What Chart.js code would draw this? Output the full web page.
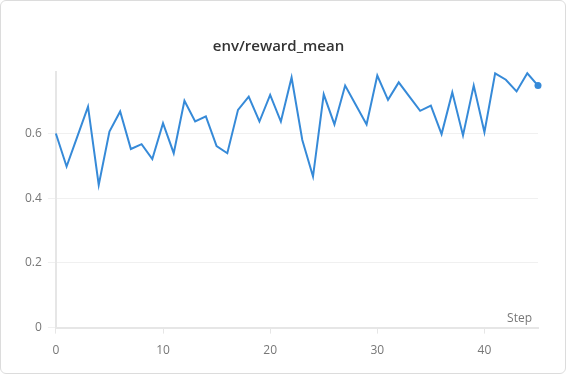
<!DOCTYPE html>
<html lang="en">
<head>
    <meta charset="UTF-8">
    <title>env/reward_mean</title>
    <script src="https://cdn.jsdelivr.net/npm/chart.js"></script>
    <style>
        body {
            margin: 0;
            padding: 0;
            background: #fff;
        }
        .card {
            position: relative;
            width: 566px;
            height: 374px;
        }
        .card::after {
            content: "";
            position: absolute;
            inset: 0;
            border: 1px solid #dcdcdc;
            border-radius: 6px;
            pointer-events: none;
        }
        canvas {
            display: block;
        }
    </style>
</head>
<body>
<div class="card">
    <canvas id="chart" width="566" height="374"></canvas>
</div>

<script>
    // steps and reward values
    const steps = [0, 1, 2, 3, 4, 5, 6, 7, 8, 9, 10, 11, 12, 13, 14, 15, 16, 17, 18, 19, 20, 21, 22,
        23, 24, 25, 26, 27, 28, 29, 30, 31, 32, 33, 34, 35, 36, 37, 38, 39, 40, 41, 42, 43, 44, 45];
    const rewardMean = [0.600, 0.498, 0.590, 0.683, 0.441, 0.606, 0.668, 0.552, 0.567, 0.521,
        0.632, 0.539, 0.701, 0.637, 0.653, 0.561, 0.539, 0.673, 0.714, 0.637,
        0.719, 0.637, 0.773, 0.580, 0.467, 0.721, 0.628, 0.748, 0.688, 0.628,
        0.779, 0.704, 0.758, 0.714, 0.670, 0.686, 0.598, 0.727, 0.594, 0.748,
        0.604, 0.786, 0.766, 0.730, 0.786, 0.748];
    const yTicks = [0, 0.2, 0.4, 0.6];
    const xTicks = [0, 10, 20, 30, 40];

    const points = steps.map((s, i) => ({ x: s, y: rewardMean[i] }));
    const lastIndex = points.length - 1;

    // "Step" label sitting above the right end of the x axis
    const stepLabel = {
        id: 'stepLabel',
        afterDraw(chart) {
            const { ctx, chartArea } = chart;
            ctx.save();
            ctx.font = '12px "Open Sans", sans-serif';
            ctx.fillStyle = '#777';
            ctx.textAlign = 'right';
            ctx.textBaseline = 'alphabetic';
            ctx.fillText('Step', chartArea.right - 6, chartArea.bottom - 6);
            ctx.restore();
        }
    };

    new Chart(document.getElementById('chart'), {
        type: 'line',
        data: {
            datasets: [{
                label: 'env/reward_mean',
                data: points,
                borderColor: '#368ad8',
                backgroundColor: '#368ad8',
                borderWidth: 2,
                tension: 0,
                clip: false,
                pointRadius: ctx => ctx.dataIndex === lastIndex ? 3.5 : 0,
                pointBorderWidth: 0
            }]
        },
        options: {
            responsive: false,
            animation: false,
            layout: {
                padding: { top: 30, right: 28, bottom: 6, left: 19 }
            },
            plugins: {
                legend: { display: false },
                tooltip: { enabled: false },
                title: {
                    display: true,
                    text: 'env/reward_mean',
                    color: '#333',
                    font: { family: '"Open Sans", sans-serif', size: 15, weight: '600' },
                    padding: { top: 8, bottom: 16 }
                }
            },
            scales: {
                x: {
                    type: 'linear',
                    min: 0,
                    max: 45,
                    afterBuildTicks: scale => { scale.ticks = xTicks.map(v => ({ value: v })); },
                    grid: {
                        drawOnChartArea: false,
                        drawTicks: true,
                        tickLength: 6,
                        color: '#e6e6e6'
                    },
                    border: { color: '#e6e6e6', width: 2 },
                    ticks: {
                        color: '#777',
                        padding: 10,
                        maxRotation: 0,
                        font: { family: '"Open Sans", sans-serif', size: 12 }
                    }
                },
                y: {
                    min: 0,
                    max: 0.79,
                    afterBuildTicks: scale => { scale.ticks = yTicks.map(v => ({ value: v })); },
                    grid: {
                        color: '#f0f0f0',
                        tickLength: 8
                    },
                    border: { color: '#e6e6e6', width: 2 },
                    ticks: {
                        color: '#777',
                        padding: 6,
                        font: { family: '"Open Sans", sans-serif', size: 12 }
                    }
                }
            }
        },
        plugins: [stepLabel]
    });
</script>
</body>
</html>
